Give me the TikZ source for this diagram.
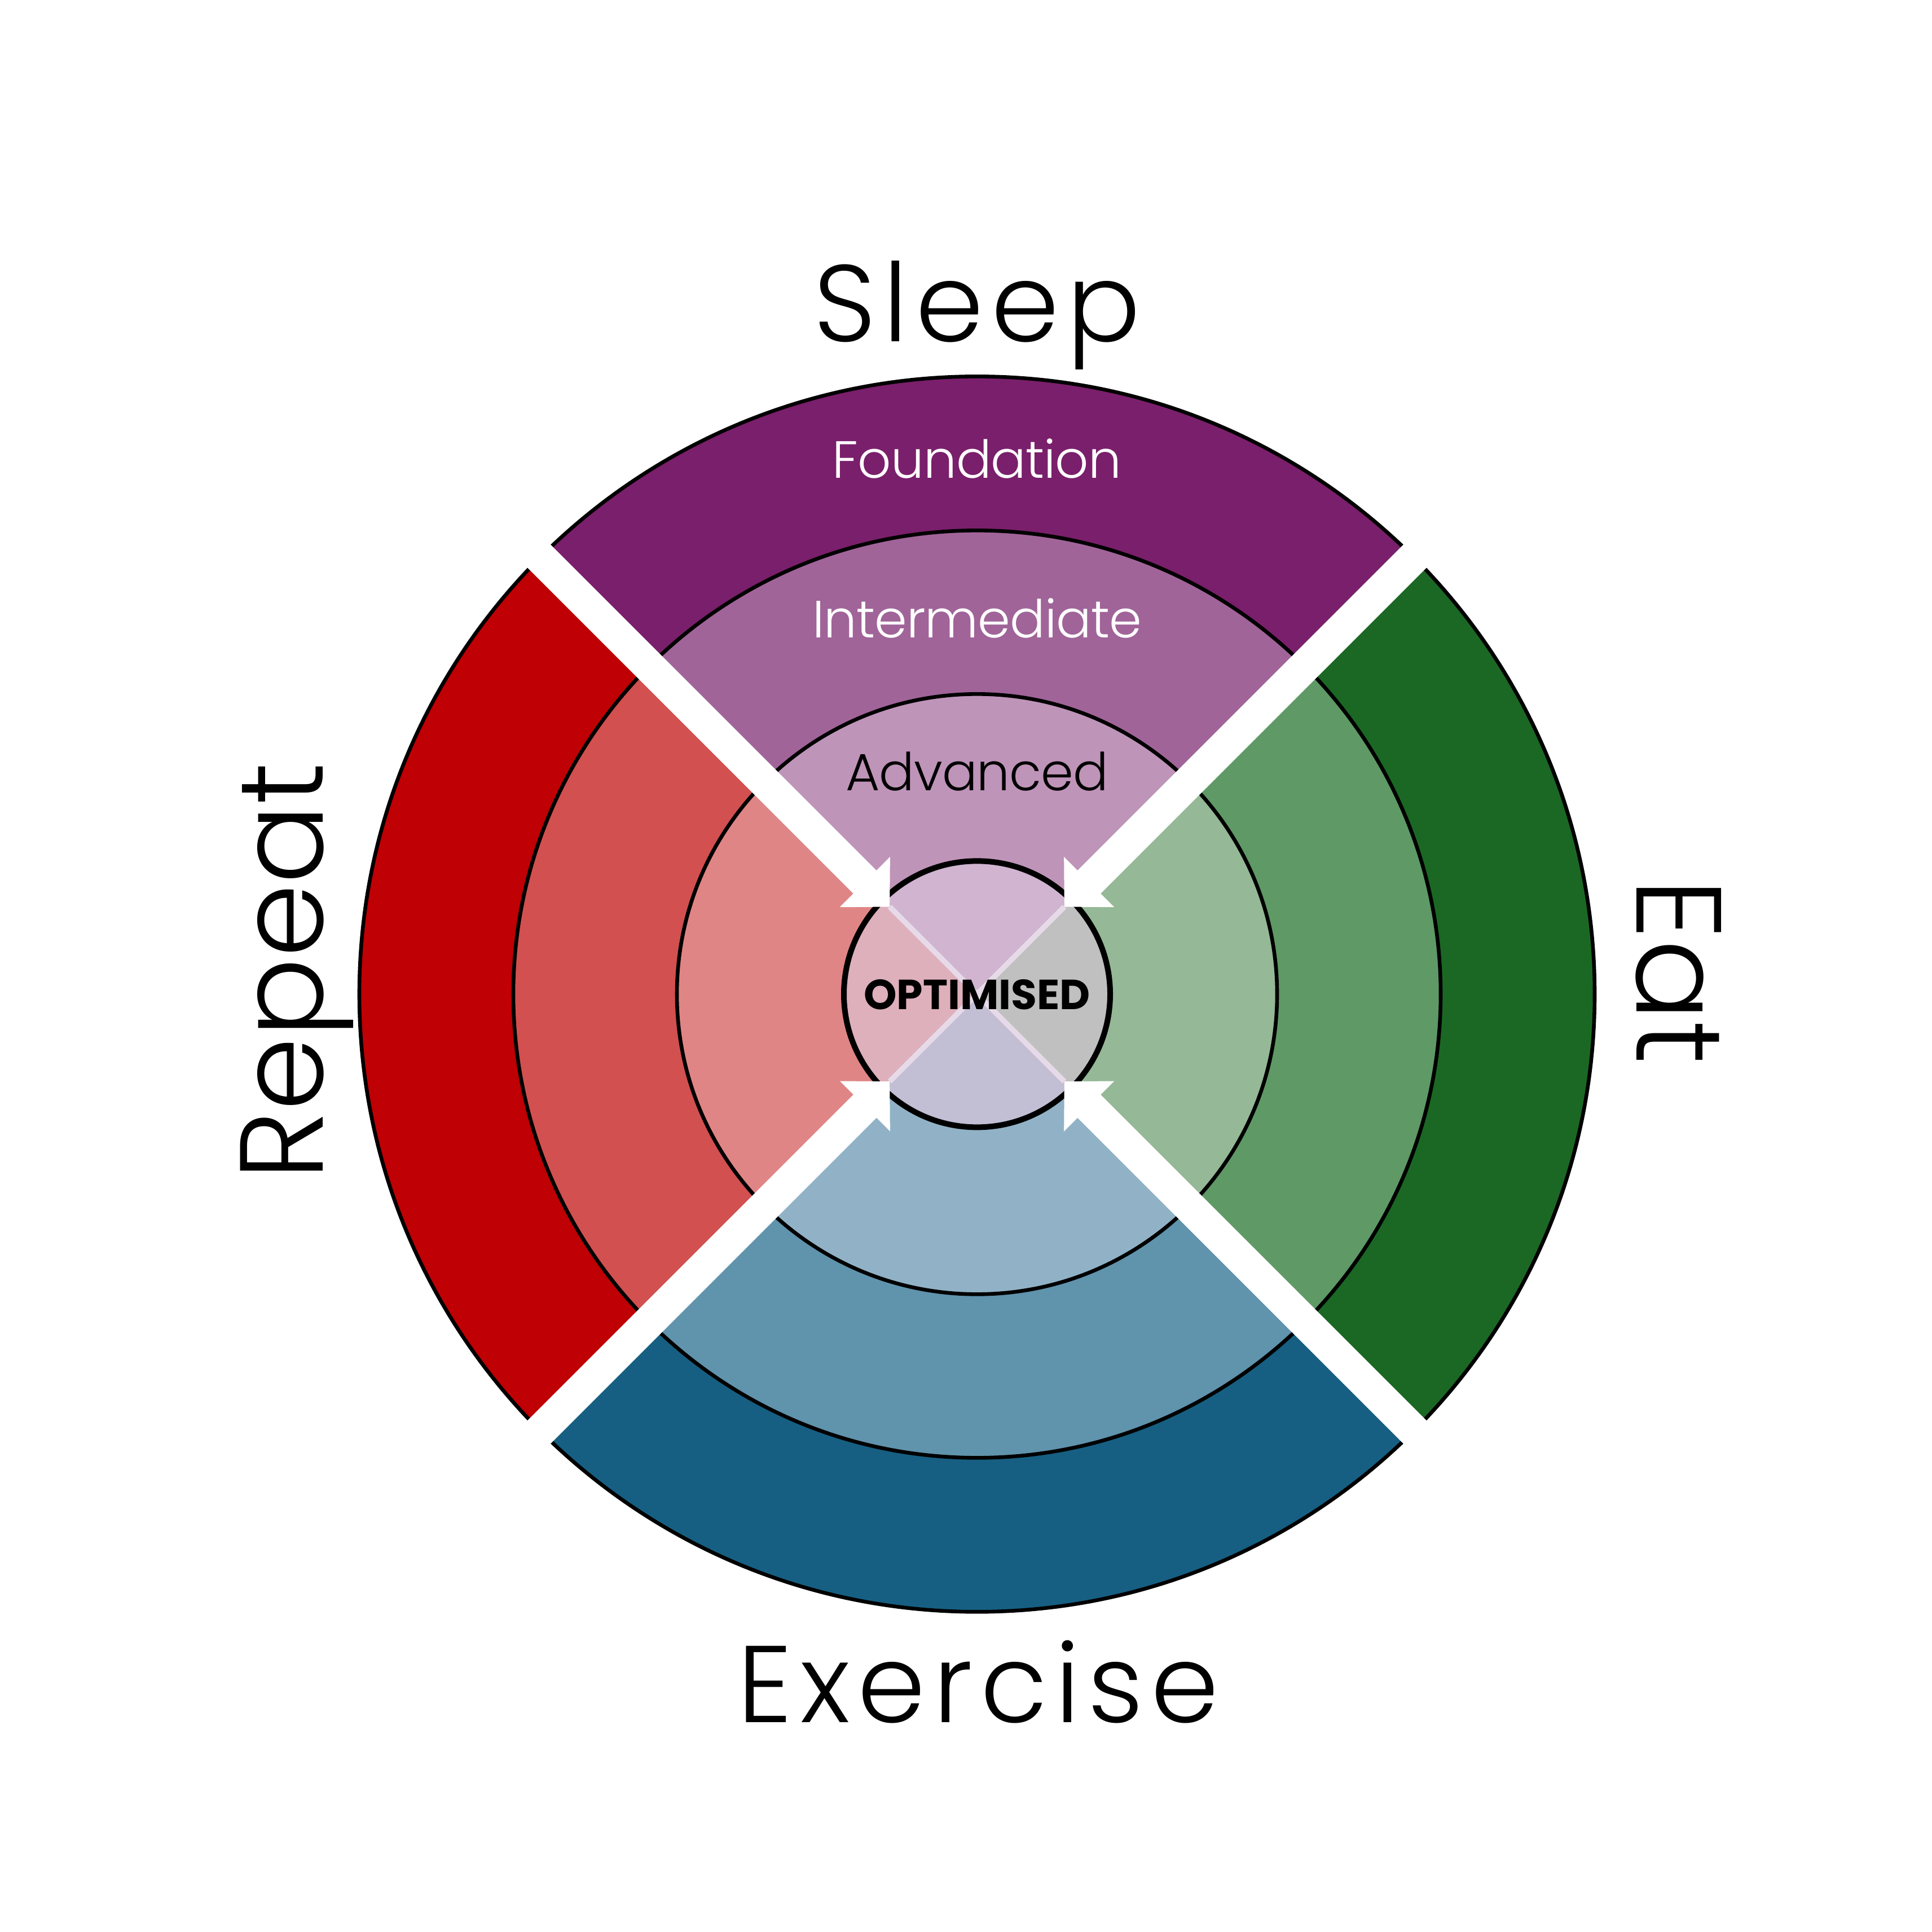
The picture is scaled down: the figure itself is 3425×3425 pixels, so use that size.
\documentclass[tikz,border=0pt]{standalone}
\usepackage{fontspec}
\setmainfont{Poppins}[UprightFont=* Light, BoldFont=* Bold]
\definecolor{slpA}{HTML}{7A1F6B}
\definecolor{slpB}{HTML}{A06499}
\definecolor{slpC}{HTML}{BF94B9}
\definecolor{slpD}{HTML}{D0B4D0}
\definecolor{eatA}{HTML}{1B6824}
\definecolor{eatB}{HTML}{5F9966}
\definecolor{eatC}{HTML}{95B896}
\definecolor{eatD}{HTML}{C0C0C0}
\definecolor{exA}{HTML}{165F82}
\definecolor{exB}{HTML}{6093AC}
\definecolor{exC}{HTML}{91B2C6}
\definecolor{exD}{HTML}{C2BED4}
\definecolor{repA}{HTML}{BF0004}
\definecolor{repB}{HTML}{D25050}
\definecolor{repC}{HTML}{E08585}
\definecolor{repD}{HTML}{DEB0BC}
\definecolor{paleX}{HTML}{E6DAE8}
\newcommand\mysector[4]{\fill[#1] (C) -- ++(#2:#4) arc[start angle=#2,end angle=#3,radius=#4] -- cycle;}
\newcommand\myquad[6]{%
  \mysector{#3}{#1}{#2}{1095}
  \mysector{#4}{#1}{#2}{822}
  \mysector{#5}{#1}{#2}{532}
  \mysector{#6}{#1}{#2}{236}}
\begin{document}
\begin{tikzpicture}[x=0.05mm,y=0.05mm,
  ring/.style={draw=black,line width=0.33mm},
  bigword/.style={font=\fontsize{27.5}{30}\selectfont\addfontfeature{LetterSpace=7},text=black,inner sep=0pt,anchor=base},
  sideword/.style={font=\fontsize{30.5}{33}\selectfont,text=black,inner sep=0pt,anchor=base},
  level/.style={font=\fontsize{13.2}{15}\selectfont\addfontfeature{LetterSpace=-1},inner sep=0pt,anchor=base},
  arrowshape/.style={fill=white}]
\useasboundingbox (0,0) rectangle (3425,3425);
\fill[white] (0,0) rectangle (3425,3425);
\coordinate (C) at (1732,1662.6);
% coloured sectors
\myquad{45}{135}{slpA}{slpB}{slpC}{slpD}
\myquad{-45}{45}{eatA}{eatB}{eatC}{eatD}
\myquad{225}{315}{exA}{exB}{exC}{exD}
\myquad{135}{225}{repA}{repB}{repC}{repD}
% ring outlines
\draw[ring] (C) circle[radius=1095];
\draw[ring] (C) circle[radius=822];
\draw[ring] (C) circle[radius=532];
\draw[draw=black,line width=0.5mm] (C) circle[radius=236];
% pale cross in the centre
\draw[paleX,line width=0.48mm] (C) ++(135:219) -- ++(-45:438);
\draw[paleX,line width=0.48mm] (C) ++(45:219) -- ++(225:438);
% white arrows along the diagonals
\foreach \ang in {45,135,225,315}{
  \begin{scope}[shift={(C)},rotate=\ang]
    \fill[arrowshape] (219,0) -- (281,63) -- (281,29) -- (1300,29) -- (1300,-29) -- (281,-29) -- (281,-63) -- cycle;
  \end{scope}}
% labels
\node[bigword] (sleep) at (1732,2819) {Sleep};
\node[bigword] (exercise) at (1734,371) {Exercise};
\node[sideword,rotate=-90] (eat) at (2901,1703) {Eat};
\node[sideword,font=\fontsize{29.8}{33}\selectfont,rotate=90] (repeat) at (572,1703) {Repeat};
\node[level,text=white] (foundation) at (1732,2577) {Foundation};
\node[level,text=white] (intermediate) at (1732,2294) {Intermediate};
\node[level,text=black] (advanced) at (1732,2023) {Advanced};
\node[font=\fontsize{10.6}{13}\selectfont\bfseries,inner sep=0pt,anchor=base] (optimised) at (1732,1635) {OPTIMISED};
\end{tikzpicture}
\end{document}
